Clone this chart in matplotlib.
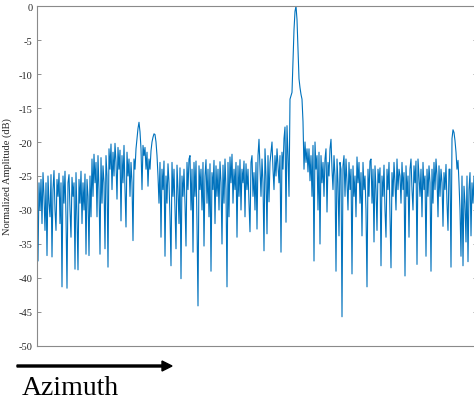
import matplotlib
matplotlib.use("Agg")
from matplotlib import pyplot as plt
import numpy as np

# normalized amplitude (dB)
seg_left = [-27, -37.5, -26, -30, -25.5, -32, -24.5, -28, -33, -26,
            -36.7, -25, -29, -31, -24.8, -36.9, -27, -24.2, -30, -33,
            -25.5, -28, -24.6, -32, -26, -41.3, -25, -29, -24.3, -31,
            -41.5, -26, -24.8, -30, -34, -25.2, -28, -26, -38.7, -24.5,
            -31, -38.8, -25.5, -29, -24.3, -32, -26, -30, -24.7, -36.5,
            -25.5, -28, -36.7, -25, -31]
seg_plateau = [-22.5, -28, -21.8, -26, -23, -31, -22, -27, -36.5, -22.3,
               -29, -23.5, -26, -35.7, -22, -25, -38.4,
               -21, -24, -20.3, -27, -21.5, -25, -20.2, -23, -28.4, -20.8,
               -24, -21.2, -31.6, -22, -26, -20.5, -27, -32.5, -21.5, -25,
               -22.5, -28, -23, -26, -34.5, -22.5, -24]
seg_bumps = [-21, -19.5, -18, -17.1, -18.5, -21, -27, -20.5, -22, -20.8,
             -24, -21.5, -26.5, -22.5, -24, -21.3, -20, -19.3, -18.8, -18.9,
             -20, -22,
             -25, -29, -23, -34, -24, -27, -22.8, -36.8, -25, -29,
             -23.2, -26, -31, -38.2, -23, -28, -24, -30, -35.7, -23.4,
             -27, -32, -23.8, -40.1, -25, -28]
seg_mid = [-24, -29, -35.3, -23, -27, -22.5, -22, -30, -24, -36.2,
           -23, -28, -22.8, -32, -44.1, -23.5, -27, -24, -30, -23,
           -35.3, -25, -22.6, -29, -24, -31, -23.2, -39, -24.5, -27,
           -22.7, -32, -23.5, -28, -24, -30, -22.9, -26, -35, -23.4,
           -29, -22.5, -27, -41.3, -23, -31, -22.2, -26, -21.8, -29,
           -24, -27, -23, -34, -23.5, -28, -22.6, -30, -24, -26,
           -22.8, -31, -23.2, -27, -24, -29, -33.2, -23, -22, -28,
           -24.5, -30,
           -23, -32.8, -22, -19.6, -24, -28, -22.5, -26, -36, -21,
           -25, -33.5, -22, -28.8, -23, -21.5, -20, -24, -27, -22,
           -25, -21, -23.5, -26, -22, -36.2, -21.5, -24, -19.5, -17.8,
           -31.8]
seg_main = [-17.6, -22, -28, -13.7, -13.2, -12.7, -8, -3.5, -0.8, 0,
            -2, -6.5, -10.7, -12, -13, -13.7, -17, -24, -20, -23,
            -21]
seg_right = [-24.4, -21, -25.7, -22, -28, -20.5, -37.5, -20, -24, -22,
             -30, -21.5, -35, -22, -26, -23, -28, -22.5, -21, -30.3,
             -23, -25, -21, -19.6, -24, -27, -22, -25, -39, -22.5,
             -26, -33.8, -23, -24, -45.7, -23.5, -22, -28,
             -22.5, -26, -30, -23, -27, -24, -39.4, -23.5, -28, -25,
             -31, -22.2, -26, -23, -29, -24.5, -33.8, -23, -27, -25,
             -30, -41.3, -24, -28, -22.8, -22.5, -29, -24, -34.7, -23.5,
             -27, -33, -24, -26, -23.8, -38.2, -25, -28, -23.4, -30,
             -34, -24, -27, -23, -31, -38.5, -24.5, -28, -23, -26,
             -30, -22.5, -27, -24,
             -25, -29, -23, -27, -24.5, -39.7, -23.5, -28, -25, -34,
             -24, -22.5, -27, -30, -23.5, -26, -22.8, -38, -22.5, -25,
             -28, -24, -31, -23, -27, -25, -36.8, -24, -28, -23.5,
             -26, -39, -24, -29, -23, -27, -22.5, -25, -31, -23.5,
             -28, -24, -26, -32.4, -24.5, -27, -23.3, -29, -33, -24,
             -24, -38.4, -19.5, -18.2, -18.6, -19.8, -21.5, -24, -22.7,
             -26, -30, -36.8, -25, -38.2, -26.5, -29, -34.7, -25, -37.6,
             -27, -24.5, -33.8, -26, -29, -25, -31]

amp = np.array(seg_left + seg_plateau + seg_bumps + seg_mid + seg_main + seg_right)
idx = np.arange(len(amp))

yticks = [0, -5, -10, -15, -20, -25, -30, -35, -40, -45, -50]

plt.rcParams['font.family'] = ['Liberation Serif', 'DejaVu Serif']

fig = plt.figure(figsize=(4.74, 4.14), dpi=100)
ax = fig.add_axes([37/474, 67/414, (len(amp) + 1)/474, 340/414])
ax.plot(idx, amp, color='#0072BD', linewidth=0.8)
ax.set_xlim(0, len(amp) + 1)
ax.set_ylim(-50, 0)
ax.set_yticks(yticks)
ax.set_yticklabels([str(t) for t in yticks], fontsize=7.5, color='#262626')
ax.set_xticks([])
ax.tick_params(axis='y', direction='in', length=3, width=0.6, color='#7f7f7f',
               right=True, pad=3)
for s in ax.spines.values():
    s.set_color('#8a8a8a')
    s.set_linewidth(0.8)
ax.set_ylabel('Normalized Amplitude (dB)', fontsize=7.5, color='#262626', labelpad=5)

# azimuth arrow under the plot
fig.patches.append(matplotlib.patches.FancyArrow(
    17/474, 1 - 367/414, 155/474, 0, width=2/414, head_width=10/414,
    head_length=10/474, length_includes_head=True, color='black',
    transform=fig.transFigure, figure=fig))
fig.text(22/474, 1 - 395/414, 'Azimuth', fontsize=20, va='baseline', ha='left')

fig.savefig('out.png', dpi=100)
